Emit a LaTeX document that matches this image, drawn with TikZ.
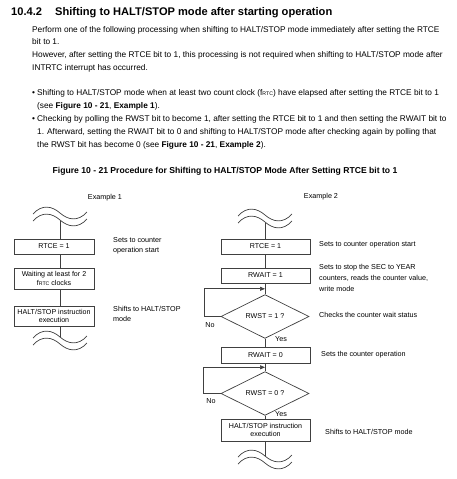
\documentclass[tikz,border=0pt]{standalone}
\usepackage{fontspec}
\setmainfont{Liberation Sans}
\usetikzlibrary{shapes.geometric,arrows.meta,calc}
\newcommand{\frtc}{f{\fontsize{5.2}{5.5}\selectfont RTC}}
\tikzset{
  body/.style={anchor=base west,inner sep=0pt,font=\fontsize{8.3}{9}\selectfont},
  flow/.style={draw=black!75,line width=0.7pt},
  fbox/.style={flow,rectangle,minimum width=80pt,inner sep=1pt,align=center,font=\fontsize{7.1}{8.6}\selectfont},
  fdia/.style={flow,diamond,minimum width=88pt,minimum height=33pt,inner sep=0pt,font=\fontsize{7.1}{8.6}\selectfont},
  desc/.style={anchor=north west,inner sep=0pt,align=left,font=\fontsize{7.2}{10.5}\selectfont},
  small/.style={inner sep=0pt,font=\fontsize{7.2}{8.6}\selectfont},
  arr/.style={flow,-{Triangle[length=5pt,width=4pt]}},
  wave/.pic={
    \draw[black!75,line width=0.7pt] (-27,1) .. controls (-18,-9) and (-8,-7) .. (0,0) .. controls (8,7) and (18,9) .. (27,-1);
    \draw[black!75,line width=0.7pt] (-27,8) .. controls (-18,-2) and (-8,0) .. (0,7) .. controls (8,14) and (18,16) .. (27,6);
  }
}
\begin{document}
\begin{tikzpicture}[x=1pt,y=-1pt]
\useasboundingbox (0,0) rectangle (456,479);
% title
\node[anchor=base west,inner sep=0pt,font=\fontsize{11.1}{14}\selectfont\bfseries] (t1) at (11,16) {10.4.2};
\node[anchor=base west,inner sep=0pt,font=\fontsize{11.1}{14}\selectfont\bfseries] (t2) at (55,16) {Shifting to HALT/STOP mode after starting operation};
% paragraph
\node[body] (p1) at (32,32) {Perform one of the following processing when shifting to HALT/STOP mode immediately after setting the RTCE};
\node[body] (p2) at (32,44.5) {bit to 1.};
\node[body] (p3) at (32,57) {However, after setting the RTCE bit to 1, this processing is not required when shifting to HALT/STOP mode after};
\node[body] (p4) at (32,70) {INTRTC interrupt has occurred.};
\node[body] (b1) at (32,95) {\textbullet};
\node[body] (p5) at (37,95) {Shifting to HALT/STOP mode when at least two count clock (\frtc) have elapsed after setting the RTCE bit to 1};
\node[body] (p6) at (37,108) {(see \textbf{Figure 10 - 21}, \textbf{Example 1}).};
\node[body] (b2) at (32,121.5) {\textbullet};
\node[body] (p7) at (37,121.5) {Checking by polling the RWST bit to become 1, after setting the RTCE bit to 1 and then setting the RWAIT bit to};
\node[body] (p8) at (37,134.5) {1. Afterward, setting the RWAIT bit to 0 and shifting to HALT/STOP mode after checking again by polling that};
\node[body] (p9) at (37,147.5) {the RWST bit has become 0 (see \textbf{Figure 10 - 21}, \textbf{Example 2}).};
% caption
\node[anchor=base,inner sep=0pt,font=\fontsize{8.6}{10}\selectfont\bfseries] (cap) at (225,173) {Figure 10 - 21 Procedure for Shifting to HALT/STOP Mode After Setting RTCE bit to 1};
% Example 1
\node[small] (ex1) at (105,198) {Example 1};
\pic at (60,213) {wave};
\coordinate (w1) at (60,221);
\node[fbox,minimum height=15pt] (a1) at (54,246.5) {RTCE = 1};
\node[fbox,minimum height=21pt] (a2) at (54,278.5) {Waiting at least for 2\\\frtc\ clocks};
\node[fbox,minimum height=20pt] (a3) at (54,316) {HALT/STOP instruction\\execution};
\pic at (60,337) {wave};
\coordinate (w2) at (60,337);
\draw[flow] (w1) -- (w1 |- a1.north);
\draw[flow] (w1 |- a1.south) -- (w1 |- a2.north);
\draw[flow] (w1 |- a2.south) -- (w1 |- a3.north);
\draw[flow] (w1 |- a3.south) -- (w2);
\node[desc,font=\fontsize{7.2}{9.3}\selectfont] (d1) at (113,237.5) {Sets to counter\\operation start};
\node[desc,font=\fontsize{7.2}{9.3}\selectfont] (d2) at (113,306.5) {Shifts to HALT/STOP\\mode};
% Example 2
\node[small] (ex2) at (321,197) {Example 2};
\pic at (265,215) {wave};
\coordinate (v1) at (265,223);
\node[fbox,minimum width=89pt,minimum height=15pt] (r1) at (265.5,246.5) {RTCE = 1};
\node[fbox,minimum width=89pt,minimum height=15pt] (r2) at (265.5,275.5) {RWAIT = 1};
\node[fdia] (q1) at (265,316.5) {RWST = 1 ?};
\node[fbox,minimum width=89pt,minimum height=16pt] (r3) at (265.5,355) {RWAIT = 0};
\node[fdia,minimum height=31pt] (q2) at (265,393.5) {RWST = 0 ?};
\node[fbox,minimum width=89pt,minimum height=22pt] (r4) at (265.5,430) {HALT/STOP instruction\\execution};
\pic at (265,456) {wave};
\coordinate (v2) at (265,456);
\coordinate (m1) at ($(r2.south)!0.5!(q1.north)$);
\coordinate (m2) at ($(r3.south)!0.5!(q2.north)$);
\draw[flow] (v1) -- (v1 |- r1.north);
\draw[flow] (v1 |- r1.south) -- (v1 |- r2.north);
\draw[flow] (v1 |- r2.south) -- (q1.north);
\draw[flow] (q1.south) -- (v1 |- r3.north);
\draw[flow] (v1 |- r3.south) -- (q2.north);
\draw[flow] (q2.south) -- (v1 |- r4.north);
\draw[flow] (v1 |- r4.south) -- (v2);
\draw[arr] (q1.west) -- ++(-16,0) |- (v1 |- m1);
\draw[arr] (q2.west) -- ++(-17,0) |- (v1 |- m2);
\node[small] (no1) at (210,325) {No};
\node[small] (no2) at (211,401) {No};
\node[small] (y1) at (281,339.5) {Yes};
\node[small] (y2) at (281,414.5) {Yes};
\node[desc] (e1) at (319,241.5) {Sets to counter operation start};
\node[desc,font=\fontsize{7.2}{11}\selectfont] (e2) at (319,264.5) {Sets to stop the SEC to YEAR\\counters, reads the counter value,\\write mode};
\node[desc] (e3) at (319,312.5) {Checks the counter wait status};
\node[desc] (e4) at (321,351.5) {Sets the counter operation};
\node[desc] (e5) at (325,429.5) {Shifts to HALT/STOP mode};
\end{tikzpicture}
\end{document}
